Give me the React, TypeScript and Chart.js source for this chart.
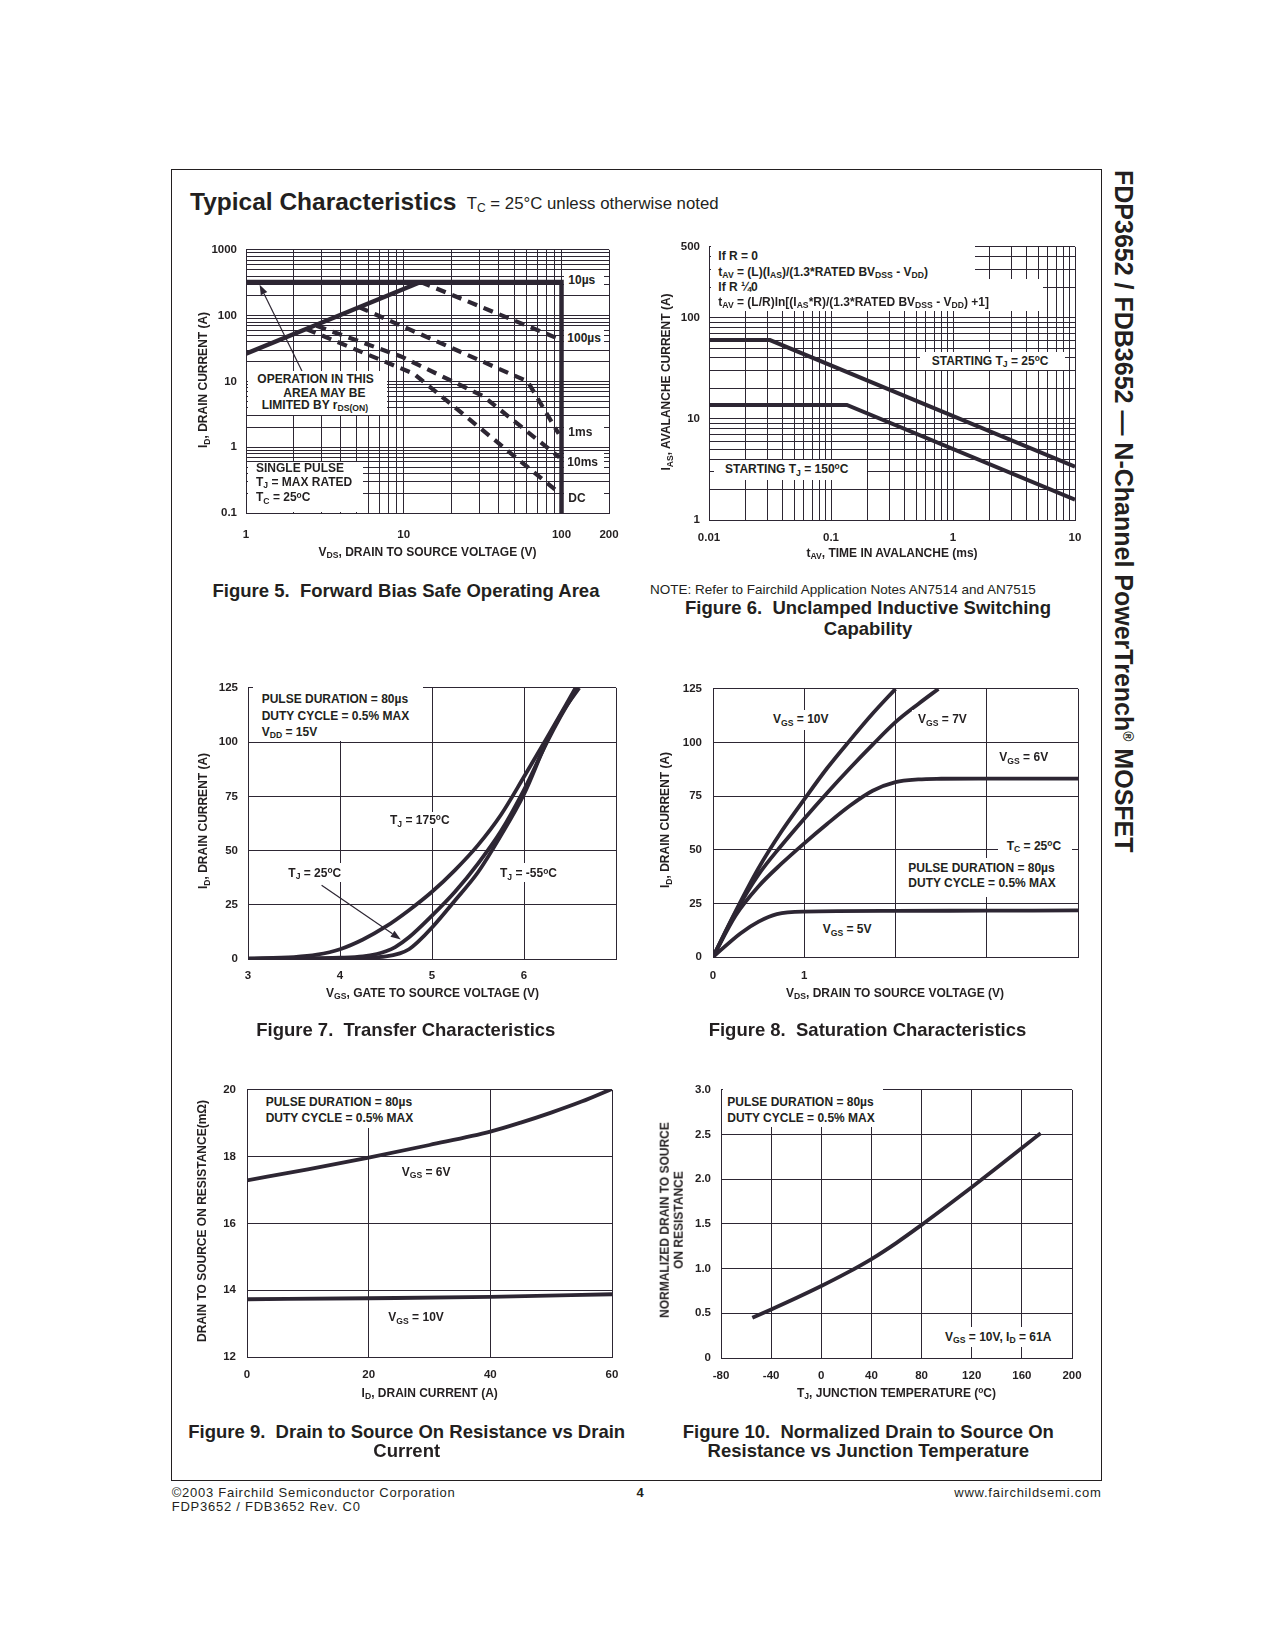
import React, { useEffect, useRef } from 'react';
import { Chart, registerables } from 'chart.js';

Chart.register(...registerables);

const FONT = "'Liberation Sans', Arial, Helvetica, sans-serif";
const INK = '#2d2633';
const TEXT = '#231f20';
Chart.defaults.font.family = FONT;

// ================= DATA =================
// Figure 5 – Forward Bias Safe Operating Area (log-log)
const soaXTickLabels = [1, 10, 100, 200];
const soaYTickLabels = [0.1, 1, 10, 100, 1000];
const soaLimitV = [1, 100, 100];
const soaLimitI = [325, 325, 0.1];
const soaRdsV = [1, 12.8];
const soaRdsI = [26.5, 325];
const soa100usV = [12.8, 97];
const soa100usI = [325, 44];
const soa1msV = [5.2, 61, 96];
const soa1msI = [135, 10, 1.6];
const soa10msV = [2.8, 9.6, 31.8, 97];
const soa10msI = [70, 24, 6.0, 0.7];
const soaDcV = [2.41, 11.6, 97];
const soaDcI = [62.7, 13.1, 0.2];

// Figure 6 – Unclamped Inductive Switching Capability (log-log)
const uisXTickLabels = [0.01, 0.1, 1, 10];
const uisYTickLabels = [1, 10, 100, 500];
const uis25T = [0.01, 0.0316, 10];
const uis25I = [60, 60, 3.36];
const uis150T = [0.01, 0.135, 10];
const uis150I = [13.7, 13.7, 1.59];

// Figure 7 – Transfer Characteristics
const trXTickLabels = ['3', '4', '5', '6'];
const trYTickLabels = ['0', '25', '50', '75', '100', '125'];
const tr175V = [3.0, 3.5, 3.75, 4.0, 4.25, 4.5, 4.75, 5.0, 5.25, 5.5, 5.75, 6.0, 6.25, 6.56];
const tr175I = [0.3, 0.9, 2, 4.5, 9, 15, 22.5, 31, 41, 52.5, 66.5, 84, 102, 125];
const tr25V = [3.0, 3.5, 4.0, 4.25, 4.4, 4.5, 4.6, 4.75, 5.0, 5.25, 5.5, 5.75, 6.0, 6.25, 6.4, 6.58];
const tr25I = [0.1, 0.2, 0.6, 1.2, 2.3, 3.6, 5.5, 10, 20, 31, 44, 59, 78, 100, 112, 125];
const trM55V = [3.0, 4.0, 4.5, 4.65, 4.75, 4.85, 5.0, 5.25, 5.5, 5.75, 6.0, 6.25, 6.42, 6.6];
const trM55I = [0.1, 0.3, 1.2, 2.6, 4.5, 8, 14.5, 27, 40, 57, 76, 100.5, 114, 125];
const trArrowFrom = [3.8, 34];
const trArrowTo = [4.66, 9];

// Figure 8 – Saturation Characteristics
const satXTickLabels = ['0', '1'];
const satYTickLabels = ['0', '25', '50', '75', '100', '125'];
const sat10V = [0, 0.25, 0.5, 0.75, 1.0, 1.25, 1.5, 1.75, 2.0];
const sat10I = [0, 21.5, 41.5, 58.5, 73.5, 88, 101, 113.5, 125];
const sat7V = [0, 0.25, 0.5, 0.75, 1.0, 1.25, 1.5, 1.75, 2.0, 2.25, 2.47];
const sat7I = [0, 21, 38.5, 52, 64.5, 76.5, 88, 99, 109.5, 118, 125];
const sat6V = [0, 0.25, 0.5, 0.75, 1.0, 1.25, 1.5, 1.75, 2.0, 2.25, 2.5, 3.0, 4.0];
const sat6I = [0, 19.5, 33, 43.5, 53, 62, 70.5, 77.5, 81.5, 82.8, 83.1, 83.2, 83.2];
const sat5V = [0, 0.3, 0.5, 0.7, 1.0, 2.0, 3.0, 4.0];
const sat5I = [0, 11, 16.5, 20, 21.2, 21.5, 21.6, 21.7];

// Figure 9 – On Resistance vs Drain Current
const rdsXTickLabels = ['0', '20', '40', '60'];
const rdsYTickLabels = ['12', '14', '16', '18', '20'];
const rds6Id = [0, 10, 20, 30, 40, 45, 50, 55, 60];
const rds6R = [17.29, 17.62, 17.97, 18.35, 18.75, 19.02, 19.32, 19.65, 20.03];
const rds10Id = [0, 20, 40, 60];
const rds10R = [13.73, 13.76, 13.8, 13.88];

// Figure 10 – Normalized On Resistance vs Junction Temperature
const normXTickLabels = ['-80', '-40', '0', '40', '80', '120', '160', '200'];
const normYTickLabels = ['0', '0.5', '1.0', '1.5', '2.0', '2.5', '3.0'];
const normTj = [-55, -40, -20, 0, 20, 40, 60, 80, 100, 120, 140, 160, 175];
const normR = [0.45, 0.543, 0.671, 0.805, 0.949, 1.107, 1.289, 1.489, 1.697, 1.911, 2.129, 2.349, 2.516];

const soaArrowFrom = [2.27, 14.2];
const soaArrowTo = [1.22, 296];

// ================= LAYOUT / HELPERS =================
const ML = 60, MR = 30, MT = 12, MB = 36;
type Rect = { L: number; T: number; R: number; B: number };
const R5: Rect = { L: 246, T: 246, R: 609, B: 513 };
const R6: Rect = { L: 709, T: 243, R: 1075, B: 520 };
const R7: Rect = { L: 248, T: 683, R: 616, B: 959 };
const R8: Rect = { L: 713, T: 683, R: 1078, B: 957 };
const R9: Rect = { L: 247, T: 1084, R: 612, B: 1357 };
const R10: Rect = { L: 721, T: 1085, R: 1072, B: 1358 };

const TICK_FONT = { family: FONT, size: 11.5, weight: 'bold' as const };
const GRID = { color: INK, lineWidth: 1, drawTicks: false };
const BORDER = { display: true, color: INK, width: 1 };

function logGrid(min: number, max: number): number[] {
  const out: number[] = [];
  for (let e = Math.floor(Math.log10(min)); e <= Math.ceil(Math.log10(max)); e++) {
    for (let m = 1; m < 10; m++) {
      const v = parseFloat((m * Math.pow(10, e)).toPrecision(8));
      if (v >= min * 0.999999 && v <= max * 1.000001) out.push(v);
    }
  }
  return out;
}

function logAxis(min: number, max: number, labels: number[], pad: number) {
  const grid = logGrid(min, max);
  return {
    type: 'logarithmic',
    min,
    max,
    afterBuildTicks: (s: any) => {
      s.ticks = grid.map((v) => ({ value: v }));
    },
    ticks: {
      autoSkip: false,
      maxRotation: 0,
      minRotation: 0,
      padding: pad,
      color: TEXT,
      font: TICK_FONT,
      callback: (v: any) => {
        const hit = labels.find((l) => Math.abs(l - Number(v)) <= l * 1e-6);
        return hit === undefined ? '' : String(hit);
      },
    },
    grid: GRID,
    border: BORDER,
  };
}

function linAxis(min: number, max: number, step: number, labels: string[], pad: number) {
  return {
    type: 'linear',
    min,
    max,
    ticks: {
      stepSize: step,
      autoSkip: false,
      maxRotation: 0,
      minRotation: 0,
      padding: pad,
      color: TEXT,
      font: TICK_FONT,
      callback: (_v: any, i: number) => (labels[i] !== undefined ? labels[i] : ''),
    },
    grid: GRID,
    border: BORDER,
  };
}

function series(xs: number[], ys: number[], extra: any = {}) {
  return {
    data: xs.map((x, i) => ({ x, y: ys[i] })),
    borderColor: INK,
    borderWidth: 4,
    pointRadius: 0,
    fill: false,
    tension: 0,
    ...extra,
  };
}
const curve = { cubicInterpolationMode: 'monotone', borderWidth: 3.8 };
const dashed = { borderDash: [10, 7], borderWidth: 4.2 };

function arrowPlugin(arrows: { from: number[]; to: number[] }[]) {
  return {
    id: 'arrows',
    afterDatasetsDraw(chart: any) {
      const ctx = chart.ctx;
      const xs = chart.scales.x;
      const ys = chart.scales.y;
      arrows.forEach((a) => {
        const x1 = xs.getPixelForValue(a.from[0]);
        const y1 = ys.getPixelForValue(a.from[1]);
        const x2 = xs.getPixelForValue(a.to[0]);
        const y2 = ys.getPixelForValue(a.to[1]);
        const ang = Math.atan2(y2 - y1, x2 - x1);
        const hl = 10, hw = 3.6;
        const bx = x2 - hl * Math.cos(ang), by = y2 - hl * Math.sin(ang);
        ctx.save();
        ctx.strokeStyle = INK;
        ctx.fillStyle = INK;
        ctx.lineWidth = 1.2;
        ctx.beginPath();
        ctx.moveTo(x1, y1);
        ctx.lineTo(bx, by);
        ctx.stroke();
        ctx.beginPath();
        ctx.moveTo(x2, y2);
        ctx.lineTo(bx + hw * Math.sin(ang), by - hw * Math.cos(ang));
        ctx.lineTo(bx - hw * Math.sin(ang), by + hw * Math.cos(ang));
        ctx.closePath();
        ctx.fill();
        ctx.restore();
      });
    },
  };
}

function makeConfig(datasets: any[], x: any, y: any, plugins: any[] = []) {
  return {
    type: 'line',
    data: { datasets },
    options: {
      responsive: false,
      animation: false,
      devicePixelRatio: 1,
      events: [],
      layout: { padding: { left: 0, right: MR, top: MT, bottom: 0 } },
      plugins: { legend: { display: false }, tooltip: { enabled: false } },
      scales: {
        x: { ...x, afterFit: (s: any) => { s.height = MB; } },
        y: { ...y, afterFit: (s: any) => { s.width = ML; } },
      },
    },
    plugins,
  };
}

function ChartCanvas({ rect, build }: { rect: Rect; build: () => any }) {
  const ref = useRef<HTMLCanvasElement>(null);
  const w = rect.R - rect.L + ML + MR;
  const h = rect.B - rect.T + MT + MB;
  useEffect(() => {
    const chart = new Chart(ref.current as HTMLCanvasElement, build());
    return () => chart.destroy();
  }, []);
  return (
    <canvas
      ref={ref}
      width={w}
      height={h}
      style={{ position: 'absolute', left: rect.L - ML, top: rect.T - MT, width: w, height: h }}
    />
  );
}

// ---- chart builders ----
const buildSoa = () =>
  makeConfig(
    [
      series(soaLimitV, soaLimitI, { borderWidth: 4.5 }),
      series(soaRdsV, soaRdsI, { borderWidth: 4.5 }),
      series(soa100usV, soa100usI, dashed),
      series(soa1msV, soa1msI, dashed),
      series(soa10msV, soa10msI, dashed),
      series(soaDcV, soaDcI, dashed),
    ],
    logAxis(1, 200, soaXTickLabels, 15),
    logAxis(0.1, 1000, soaYTickLabels, 9),
    [arrowPlugin([{ from: soaArrowFrom, to: soaArrowTo }])]
  );

const buildUis = () =>
  makeConfig(
    [series(uis25T, uis25I), series(uis150T, uis150I)],
    logAxis(0.01, 10, uisXTickLabels, 11),
    logAxis(1, 500, uisYTickLabels, 9)
  );

const buildTransfer = () =>
  makeConfig(
    [series(tr175V, tr175I, curve), series(tr25V, tr25I, curve), series(trM55V, trM55I, curve)],
    linAxis(3, 7, 1, trXTickLabels, 10),
    linAxis(0, 125, 25, trYTickLabels, 10),
    [arrowPlugin([{ from: trArrowFrom, to: trArrowTo }])]
  );

const buildSat = () =>
  makeConfig(
    [
      series(sat10V, sat10I, curve),
      series(sat7V, sat7I, curve),
      series(sat6V, sat6I, curve),
      series(sat5V, sat5I, curve),
    ],
    linAxis(0, 4, 1, satXTickLabels, 12),
    linAxis(0, 125, 25, satYTickLabels, 11)
  );

const buildRds = () =>
  makeConfig(
    [series(rds6Id, rds6R, curve), series(rds10Id, rds10R, curve)],
    linAxis(0, 60, 20, rdsXTickLabels, 11),
    linAxis(12, 20, 2, rdsYTickLabels, 11)
  );

const buildNorm = () =>
  makeConfig(
    [series(normTj, normR, curve)],
    linAxis(-80, 200, 40, normXTickLabels, 11),
    linAxis(0, 3, 0.5, normYTickLabels, 10)
  );

// ---- text helpers ----
function Txt({ x, y, a = 'l', size = 12, bold = true, children, style = {} }: any) {
  const tx = a === 'l' ? '0' : a === 'c' ? '-50%' : '-100%';
  return (
    <div
      style={{
        position: 'absolute',
        left: x,
        top: y,
        transform: `translate(${tx},-50%)`,
        whiteSpace: 'pre',
        fontFamily: FONT,
        fontSize: size,
        fontWeight: bold ? 700 : 400,
        lineHeight: 1,
        color: TEXT,
        ...style,
      }}
    >
      {children}
    </div>
  );
}
function RTxt({ x, y, size = 12, children, style = {} }: any) {
  return (
    <div
      style={{
        position: 'absolute',
        left: x,
        top: y,
        transform: 'translate(-50%,-50%) rotate(-90deg)',
        whiteSpace: 'pre',
        fontFamily: FONT,
        fontSize: size,
        fontWeight: 700,
        lineHeight: 1,
        color: TEXT,
        textAlign: 'center',
        ...style,
      }}
    >
      {children}
    </div>
  );
}
function WBox({ x1, y1, x2, y2 }: any) {
  return <div style={{ position: 'absolute', left: x1, top: y1, width: x2 - x1, height: y2 - y1, background: '#fff' }} />;
}
const Sub = ({ children }: any) => (
  <span style={{ fontSize: '0.72em', position: 'relative', top: '0.3em' }}>{children}</span>
);
const Deg = () => <span style={{ fontSize: '0.7em', position: 'relative', top: '-0.45em' }}>o</span>;

const FOOT = { letterSpacing: 0.75 };

export default function App() {
  return (
    <div style={{ position: 'absolute', left: 0, top: 0, width: 1275, height: 1650, background: '#fff', overflow: 'hidden' }}>
      {/* page frame */}
      <div style={{ position: 'absolute', left: 171, top: 169, width: 931, height: 1312, border: `1px solid ${TEXT}`, boxSizing: 'border-box' }} />

      <Txt x={190} y={201.5} size={24.5}>Typical Characteristics</Txt>
      <Txt x={466.7} y={203.5} size={16.8} bold={false}>
        T<Sub>C</Sub> = 25°C unless otherwise noted
      </Txt>

      <div
        style={{
          position: 'absolute',
          left: 1123,
          top: 170,
          transform: 'rotate(90deg) translate(0,-50%)',
          transformOrigin: '0 0',
          fontFamily: FONT,
          fontWeight: 700,
          fontSize: 25,
          lineHeight: 1,
          whiteSpace: 'pre',
          color: TEXT,
        }}
      >
        FDP3652 / FDB3652 — N-Channel PowerTrench
        <span style={{ fontSize: '0.55em', position: 'relative', top: '-0.6em' }}>®</span> MOSFET
      </div>

      <ChartCanvas rect={R5} build={buildSoa} />
      <ChartCanvas rect={R6} build={buildUis} />
      <ChartCanvas rect={R7} build={buildTransfer} />
      <ChartCanvas rect={R8} build={buildSat} />
      <ChartCanvas rect={R9} build={buildRds} />
      <ChartCanvas rect={R10} build={buildNorm} />

      {/* ===== Figure 5 ===== */}
      <RTxt x={203} y={379.5}>I<Sub>D</Sub>, DRAIN CURRENT (A)</RTxt>
      <Txt a="c" x={427.5} y={551.7}>V<Sub>DS</Sub>, DRAIN TO SOURCE VOLTAGE (V)</Txt>
      <WBox x1={564} y1={272} x2={604} y2={288} />
      <Txt x={568.3} y={280}>10µs</Txt>
      <WBox x1={564} y1={329} x2={604} y2={346} />
      <Txt x={567.3} y={337.7}>100µs</Txt>
      <WBox x1={564} y1={423} x2={604} y2={440} />
      <Txt x={568.3} y={431.7}>1ms</Txt>
      <WBox x1={564} y1={453} x2={604} y2={470} />
      <Txt x={567.3} y={461.7}>10ms</Txt>
      <WBox x1={564} y1={489} x2={604} y2={506} />
      <Txt x={568.3} y={497.7}>DC</Txt>
      <WBox x1={248} y1={371} x2={387} y2={415} />
      <Txt x={257.3} y={379.3}>OPERATION IN THIS</Txt>
      <Txt x={283.3} y={392.5}>AREA MAY BE</Txt>
      <Txt x={261.7} y={404.5}>LIMITED BY r<Sub>DS(ON)</Sub></Txt>
      <WBox x1={248} y1={461.5} x2={363.3} y2={512} />
      <Txt x={256} y={468.3}>SINGLE PULSE</Txt>
      <Txt x={256} y={481.7}>T<Sub>J</Sub> = MAX RATED</Txt>
      <Txt x={256} y={497.3}>T<Sub>C</Sub> = 25<Deg />C</Txt>
      <Txt a="c" x={406} y={591} size={18.5}>Figure 5.  Forward Bias Safe Operating Area</Txt>

      {/* ===== Figure 6 ===== */}
      <RTxt x={666} y={382}>I<Sub>AS</Sub>, AVALANCHE CURRENT (A)</RTxt>
      <Txt a="c" x={892} y={552.7}>t<Sub>AV</Sub>, TIME IN AVALANCHE (ms)</Txt>
      <WBox x1={711} y1={245} x2={975} y2={281} />
      <WBox x1={711} y1={279} x2={1043} y2={311} />
      <Txt x={718.3} y={256}>If R = 0</Txt>
      <Txt x={718.3} y={271.7}>
        t<Sub>AV</Sub> = (L)(I<Sub>AS</Sub>)/(1.3*RATED BV<Sub>DSS</Sub> - V<Sub>DD</Sub>)
      </Txt>
      <Txt x={718.3} y={286.7}>If R {'\u00BC'}0</Txt>
      <Txt x={718.3} y={301.7}>
        t<Sub>AV</Sub> = (L/R)ln[(I<Sub>AS</Sub>*R)/(1.3*RATED BV<Sub>DSS</Sub> - V<Sub>DD</Sub>) +1]
      </Txt>
      <WBox x1={920} y1={351.7} x2={1065} y2={370} />
      <Txt x={931.7} y={360.7}>STARTING T<Sub>J</Sub> = 25<Deg />C</Txt>
      <WBox x1={714} y1={460} x2={866.7} y2={480} />
      <Txt x={725} y={469}>STARTING T<Sub>J</Sub> = 150<Deg />C</Txt>
      <Txt x={650} y={590} size={13.5} bold={false}>NOTE: Refer to Fairchild Application Notes AN7514 and AN7515</Txt>
      <Txt a="c" x={868} y={608} size={18.5}>Figure 6.  Unclamped Inductive Switching</Txt>
      <Txt a="c" x={868} y={629} size={18.5}>Capability</Txt>

      {/* ===== Figure 7 ===== */}
      <RTxt x={203.3} y={821.3}>I<Sub>D</Sub>, DRAIN CURRENT (A)</RTxt>
      <Txt a="c" x={432.5} y={992.7}>V<Sub>GS</Sub>, GATE TO SOURCE VOLTAGE (V)</Txt>
      <WBox x1={253} y1={687} x2={423} y2={741} />
      <Txt x={261.7} y={699.3}>PULSE DURATION = 80µs</Txt>
      <Txt x={261.7} y={715.7}>DUTY CYCLE = 0.5% MAX</Txt>
      <Txt x={261.7} y={731.7}>V<Sub>DD</Sub> = 15V</Txt>
      <WBox x1={383} y1={811.7} x2={456} y2={828.3} />
      <Txt x={390} y={820}>T<Sub>J</Sub> = 175<Deg />C</Txt>
      <WBox x1={280} y1={863} x2={350} y2={881.7} />
      <Txt x={288.3} y={872.7}>T<Sub>J</Sub> = 25<Deg />C</Txt>
      <WBox x1={491.7} y1={863} x2={591.7} y2={881.7} />
      <Txt x={500} y={873.3}>T<Sub>J</Sub> = -55<Deg />C</Txt>
      <Txt a="c" x={405.8} y={1030} size={18.5}>Figure 7.  Transfer Characteristics</Txt>

      {/* ===== Figure 8 ===== */}
      <RTxt x={665} y={820.3}>I<Sub>D</Sub>, DRAIN CURRENT (A)</RTxt>
      <Txt a="c" x={895} y={992.7}>V<Sub>DS</Sub>, DRAIN TO SOURCE VOLTAGE (V)</Txt>
      <WBox x1={768} y1={710} x2={834} y2={730} />
      <Txt x={773} y={719}>V<Sub>GS</Sub> = 10V</Txt>
      <WBox x1={911.7} y1={710} x2={976.7} y2={730} />
      <Txt x={918} y={719}>V<Sub>GS</Sub> = 7V</Txt>
      <WBox x1={993} y1={748} x2={1068} y2={770} />
      <Txt x={999.3} y={757}>V<Sub>GS</Sub> = 6V</Txt>
      <WBox x1={998} y1={836} x2={1071.7} y2={855} />
      <Txt x={1006.7} y={845.7}>T<Sub>C</Sub> = 25<Deg />C</Txt>
      <WBox x1={903} y1={858} x2={1068} y2={896.7} />
      <Txt x={908.3} y={867.7}>PULSE DURATION = 80µs</Txt>
      <Txt x={908.3} y={883.3}>DUTY CYCLE = 0.5% MAX</Txt>
      <WBox x1={811.7} y1={921.7} x2={876.7} y2={940} />
      <Txt x={822.7} y={929}>V<Sub>GS</Sub> = 5V</Txt>
      <Txt a="c" x={867.5} y={1030} size={18.5}>Figure 8.  Saturation Characteristics</Txt>

      {/* ===== Figure 9 ===== */}
      <RTxt x={201.7} y={1221}>DRAIN TO SOURCE ON RESISTANCE(mΩ)</RTxt>
      <Txt a="c" x={429.7} y={1392.7}>I<Sub>D</Sub>, DRAIN CURRENT (A)</Txt>
      <WBox x1={261.7} y1={1090} x2={421.7} y2={1128.3} />
      <Txt x={265.7} y={1101.7}>PULSE DURATION = 80µs</Txt>
      <Txt x={265.7} y={1117.7}>DUTY CYCLE = 0.5% MAX</Txt>
      <Txt x={401.7} y={1171.7}>V<Sub>GS</Sub> = 6V</Txt>
      <Txt x={388.3} y={1317.3}>V<Sub>GS</Sub> = 10V</Txt>
      <Txt a="c" x={406.7} y={1431.7} size={18.5}>Figure 9.  Drain to Source On Resistance vs Drain</Txt>
      <Txt a="c" x={406.7} y={1450.5} size={18.5}>Current</Txt>

      {/* ===== Figure 10 ===== */}
      <RTxt x={672.2} y={1220} style={{ lineHeight: '14.3px' }}>
        {'NORMALIZED DRAIN TO SOURCE\nON RESISTANCE'}
      </RTxt>
      <Txt a="c" x={896.5} y={1392.7}>T<Sub>J</Sub>, JUNCTION TEMPERATURE (<Deg />C)</Txt>
      <WBox x1={723} y1={1088} x2={883} y2={1126.7} />
      <Txt x={727.3} y={1102.3}>PULSE DURATION = 80µs</Txt>
      <Txt x={727.3} y={1117.7}>DUTY CYCLE = 0.5% MAX</Txt>
      <WBox x1={938} y1={1326.7} x2={1061.7} y2={1346.7} />
      <Txt x={945} y={1336.7}>V<Sub>GS</Sub> = 10V, I<Sub>D</Sub> = 61A</Txt>
      <Txt a="c" x={868.3} y={1431.7} size={18.5}>Figure 10.  Normalized Drain to Source On</Txt>
      <Txt a="c" x={868.3} y={1450.5} size={18.5}>Resistance vs Junction Temperature</Txt>

      {/* footer */}
      <Txt x={171.7} y={1492.3} size={13} bold={false} style={FOOT}>©2003 Fairchild Semiconductor Corporation</Txt>
      <Txt x={171.7} y={1505.7} size={13} bold={false} style={FOOT}>FDP3652 / FDB3652 Rev. C0</Txt>
      <Txt a="c" x={640} y={1492.3} size={13}>4</Txt>
      <Txt a="r" x={1101.5} y={1492.3} size={13} bold={false} style={FOOT}>www.fairchildsemi.com</Txt>
    </div>
  );
}
